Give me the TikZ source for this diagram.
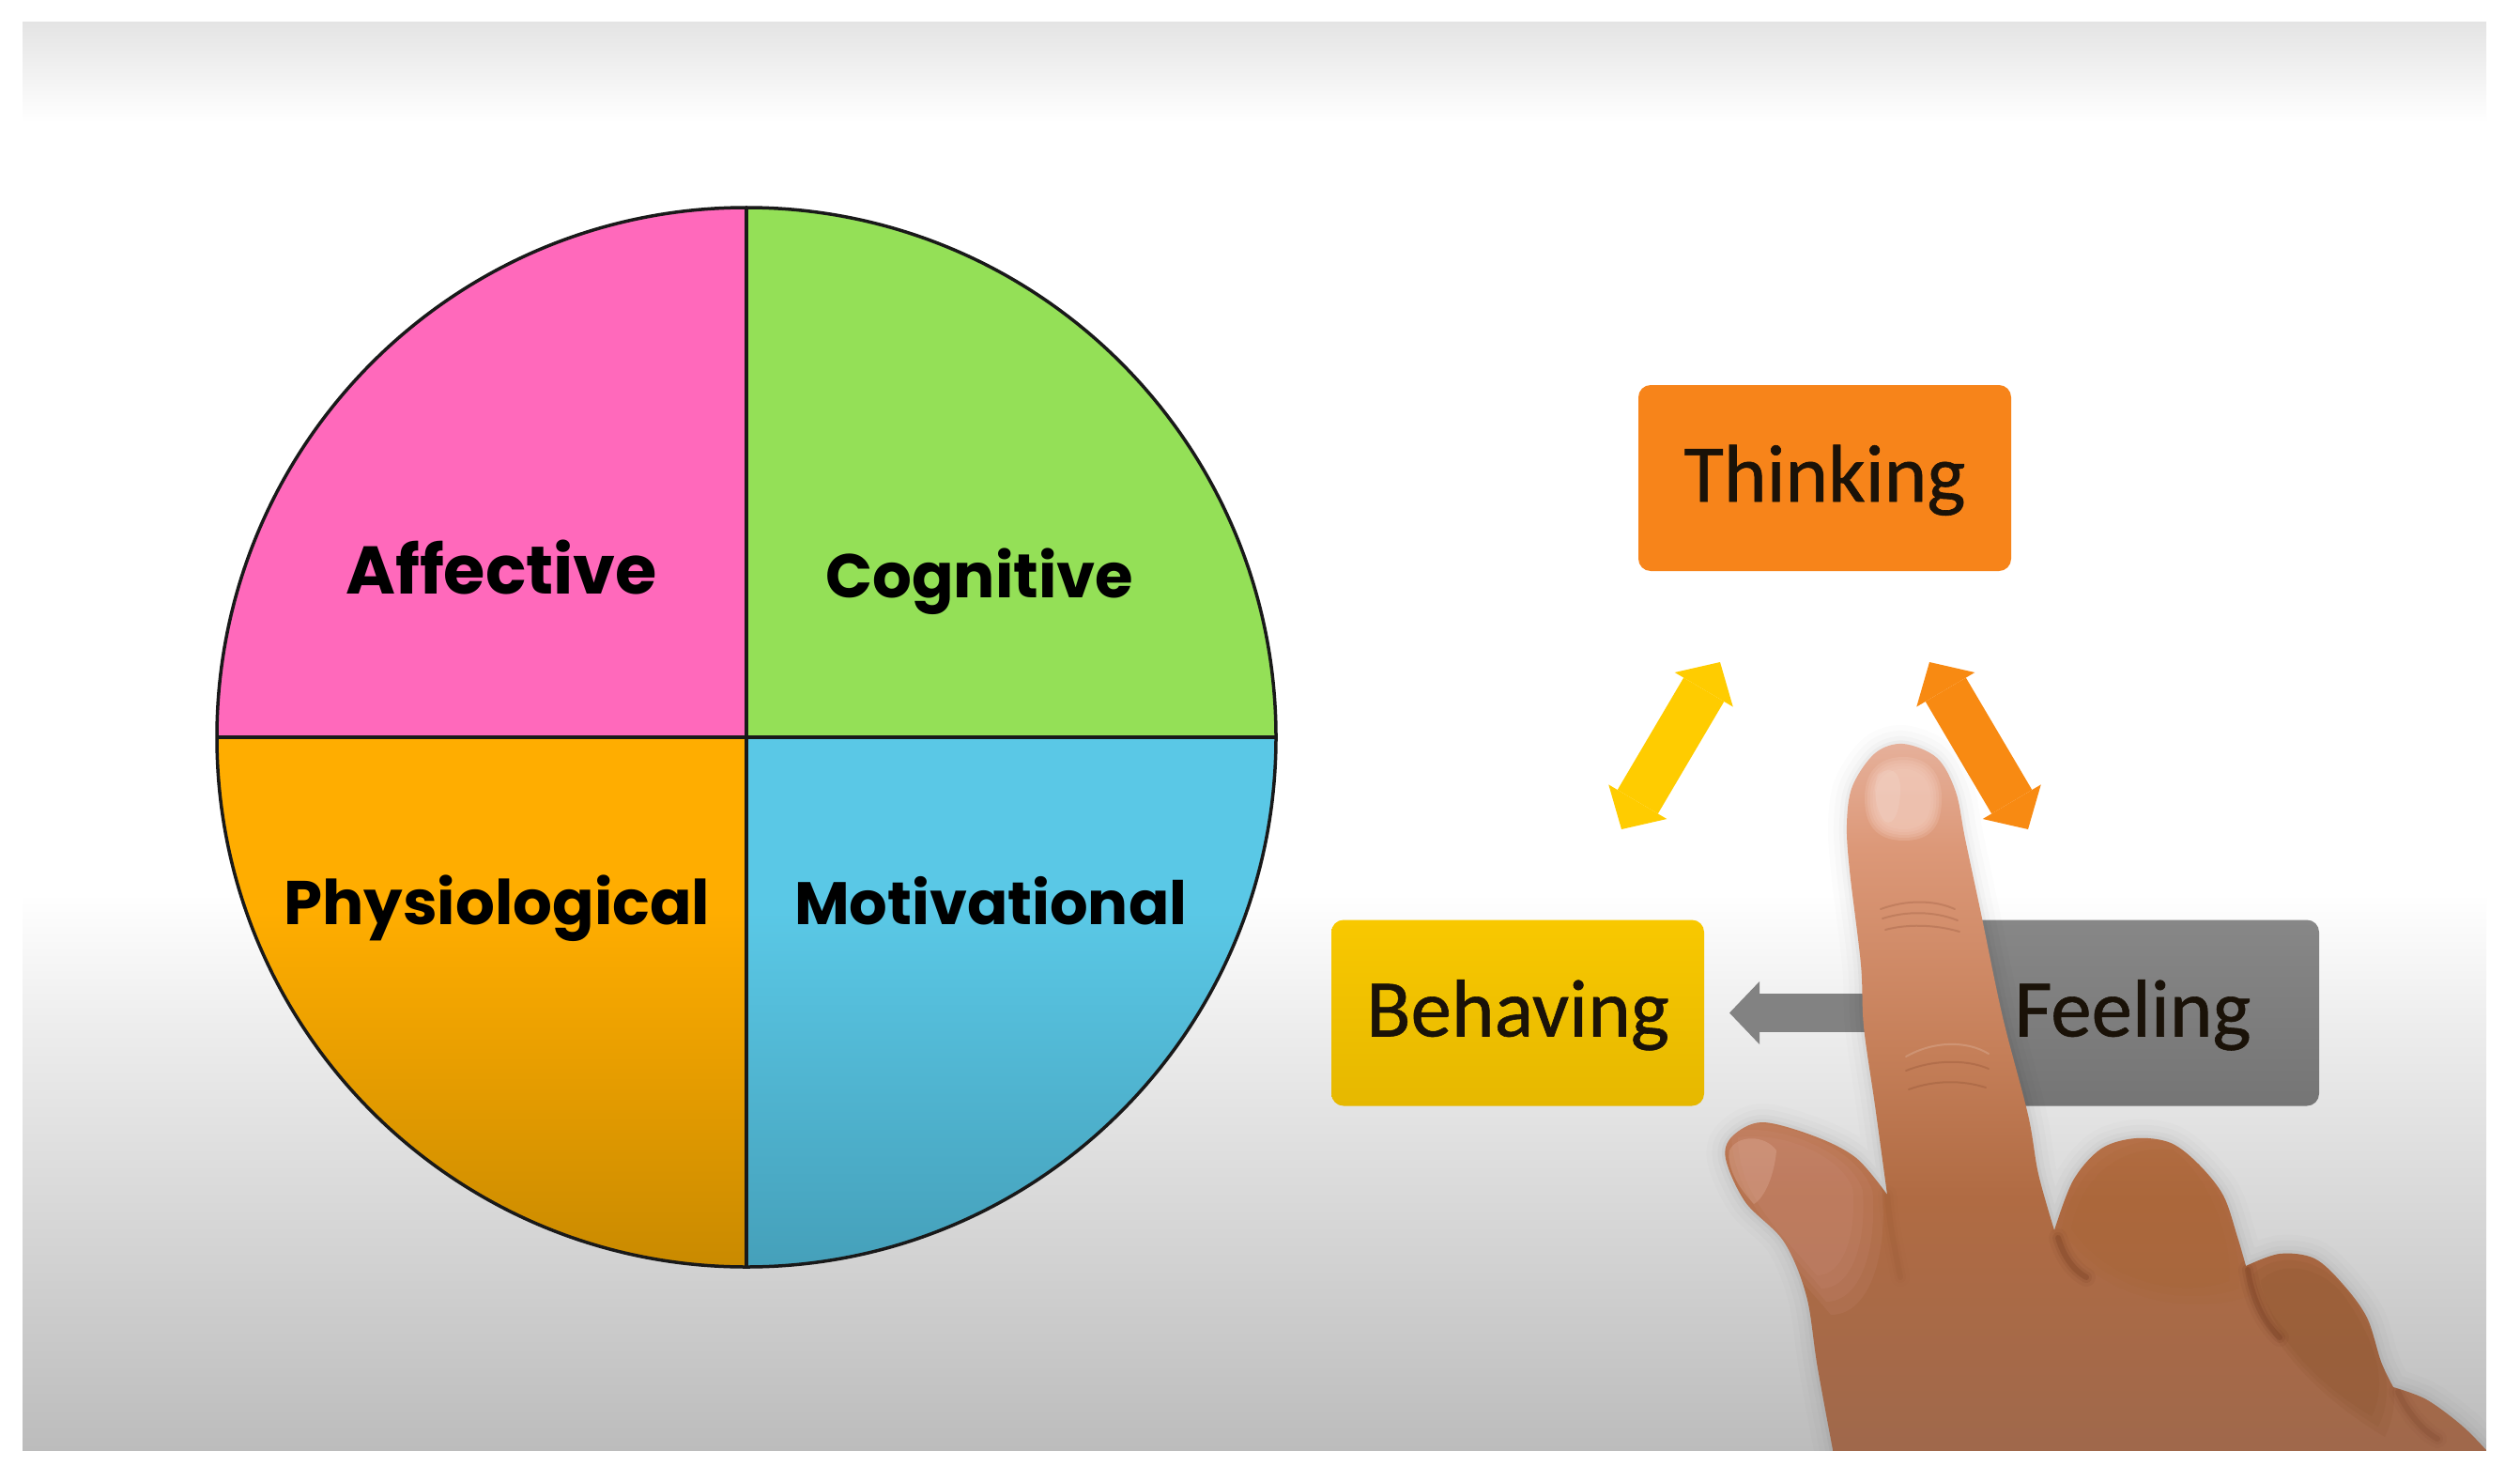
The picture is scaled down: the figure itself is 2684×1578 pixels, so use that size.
\documentclass[tikz,border=0pt]{standalone}
\usepackage{fontspec}
\setmainfont{Carlito}[RawFeature={embolden=0.7}]
\newfontfamily\heavyfont{Poppins}[UprightFont=* Bold]
\usetikzlibrary{arrows.meta}
\definecolor{bgtop}{HTML}{E4E4E4}
\definecolor{bgmid}{HTML}{ECECEC}
\definecolor{bgbot}{HTML}{BCBCBC}
\definecolor{pinkq}{HTML}{FF69BB}
\definecolor{greenq}{HTML}{94E057}
\definecolor{orangeq}{HTML}{FFAD00}
\definecolor{orangeqd}{HTML}{C98A00}
\definecolor{blueq}{HTML}{5AC8E6}
\definecolor{blueqd}{HTML}{45A0BA}
\definecolor{thinkc}{HTML}{F7841A}
\definecolor{inkc}{HTML}{1A1208}
\definecolor{yellowa}{HTML}{FFCC00}
\definecolor{oranga}{HTML}{F88A12}
\definecolor{graya}{HTML}{828282}
\definecolor{behavet}{HTML}{F8C800}
\definecolor{behaveb}{HTML}{E6B800}
\definecolor{feelt}{HTML}{878787}
\definecolor{feelb}{HTML}{757575}
\definecolor{skina}{HTML}{E6B09A}
\definecolor{skinb}{HTML}{DC9878}
\definecolor{skinc}{HTML}{C6805A}
\definecolor{skind}{HTML}{B06B43}
\definecolor{skine}{HTML}{9E684C}
\definecolor{skintan}{HTML}{A5622F}
\definecolor{skinpink}{HTML}{D4968A}
\definecolor{skinfold}{HTML}{5A2410}
\definecolor{nailc}{HTML}{F4CDBE}
\pgfdeclareverticalshading{bgshade}{100bp}{color(0bp)=(bgbot); color(25bp)=(bgbot); color(39.6bp)=(bgmid); color(44.5bp)=(white); color(71.5bp)=(white); color(75bp)=(bgtop); color(100bp)=(bgtop)}
\pgfdeclareverticalshading{orangeshade}{100bp}{color(0bp)=(orangeqd); color(25bp)=(orangeqd); color(58.6bp)=(orangeq); color(100bp)=(orangeq)}
\pgfdeclareverticalshading{blueshade}{100bp}{color(0bp)=(blueqd); color(25bp)=(blueqd); color(58.6bp)=(blueq); color(100bp)=(blueq)}
\pgfdeclareverticalshading{handshade}{100bp}{color(0bp)=(skine); color(25bp)=(skine); color(43.9bp)=(skind); color(54.5bp)=(skinc); color(67.8bp)=(skinb); color(75bp)=(skina); color(100bp)=(skina)}
\tikzset{
  boxbase/.style={rounded corners=13pt,minimum width=397pt,minimum height=198pt,inner sep=0pt,
    text height=124pt,text depth=74pt,text=inkc,font=\fontsize{87}{100}\selectfont},
  quadlabel/.style={anchor=base west,inner sep=0pt,text=black,font=\heavyfont\fontsize{60}{72}\selectfont},
  divider/.style={line width=3.5pt,draw=black!90},
  twoway/.style={line width=50pt,{Triangle[length=34pt,width=72pt,line width=0pt]}-{Triangle[length=34pt,width=72pt,line width=0pt]}},
  oneway/.style={line width=41pt,-{Triangle[length=32pt,width=67pt,line width=0pt]}},
  crease/.style={draw=#1,line cap=round,line width=2pt,opacity=.16}
}
\newcommand{\fitw}[2]{\resizebox{#1pt}{!}{#2}}
\newcommand{\handpath}{
  plot[smooth,tension=.55] coordinates {(1957,1570)(1936,1457)(1924,1380)(1900,1322)(1859,1280)(1838,1234)(1845,1210)(1877,1195)(1933,1210)(1977,1233)(2010,1272)}
  -- plot[smooth,tension=.55] coordinates {(2010,1272)(1997,1177)(1985,1093)(1982,1027)(1970,927)(1967,877)(1973,837)(1997,802)(2027,792)(2063,807)(2083,843)(2093,893)(2110,973)(2133,1083)(2160,1187)(2171,1250)(2188,1310)}
  -- plot[smooth,tension=.55] coordinates {(2188,1310)(2208,1257)(2238,1223)(2275,1212)(2312,1217)(2342,1240)(2368,1273)(2383,1317)(2392,1348)}
  -- plot[smooth,tension=.55] coordinates {(2392,1348)(2428,1335)(2465,1340)(2495,1367)(2521,1403)(2536,1450)(2549,1477)}
  -- plot[smooth,tension=.55] coordinates {(2549,1477)(2584,1490)(2621,1517)(2648,1544)(2670,1570)}
  -- cycle}
\begin{document}
\begin{tikzpicture}[x=1pt,y=-1pt]
\useasboundingbox (0,0) rectangle (2684,1578);
\fill[white] (0,0) rectangle (2684,1578);
\path[shading=bgshade] (24,24) rectangle (2648,1544);
% circle
\coordinate (c) at (795,785);
\coordinate (ct) at (795,221);
\coordinate (cb) at (795,1349);
\coordinate (cl) at (231,785);
\coordinate (cr) at (1359,785);
\fill[pinkq] (c) -- (ct) arc[start angle=90,end angle=180,radius=564pt] -- cycle;
\fill[greenq] (c) -- (ct) arc[start angle=90,end angle=0,radius=564pt] -- cycle;
\path[shading=orangeshade] (c) -- (cl) arc[start angle=180,end angle=270,radius=564pt] -- cycle;
\path[shading=blueshade] (c) -- (cr) arc[start angle=0,end angle=-90,radius=564pt] -- cycle;
\draw[divider] (c) circle[radius=564pt];
\draw[divider] (ct) -- (cb);
\draw[divider] (cl) -- (cr);
\node[quadlabel] (affective) at (368,632) {\fitw{332}{Affective}};
\node[quadlabel] (cognitive) at (879,636) {\fitw{328}{Cognitive}};
\node[quadlabel] (physio) at (302,984) {\fitw{454}{Physiological}};
\node[quadlabel] (motiv) at (846,984) {\fitw{418}{Motivational}};
% boxes
\node[boxbase,fill=thinkc] (thinking) at (1943.5,509) {Thinking};
\node[boxbase,top color=behavet,bottom color=behaveb] (behaving) at (1616.5,1078.5) {Behaving};
\node[boxbase,top color=feelt,bottom color=feelb] (feeling) at (2271.5,1078.5) {Feeling};
% arrows
\coordinate (ya) at (1832,705);
\coordinate (yb) at (1727,883);
\coordinate (oa) at (2055,705);
\coordinate (ob) at (2160,883);
\coordinate (gb) at (1842,1078.5);
\draw[twoway,draw=yellowa,fill=yellowa] (ya) -- (yb);
\draw[twoway,draw=oranga,fill=oranga] (oa) -- (ob);
\draw[oneway,draw=graya,fill=graya] (feeling) -- (gb);
% hand
\begin{scope}
\clip (24,24) rectangle (2648,1544);
\foreach \w/\o in {40/.012,28/.016,16/.02,7/.03}{
  \draw[black,opacity=\o,line width=\w pt,line join=round] \handpath;
}
\path[shading=handshade] \handpath;
\begin{scope}
\clip \handpath;
% thumb tone
\foreach \s in {1,.9,.8,.7}{
  \begin{scope}[shift={(1900,1260)},scale=\s,shift={(-1900,-1260)}]
  \fill[skinpink,opacity=.12] (1830,1190) .. controls (1900,1180) and (1990,1220) .. (2005,1270) .. controls (2010,1340) and (1990,1400) .. (1950,1400) .. controls (1900,1340) and (1830,1280) .. (1830,1190) -- cycle;
  \end{scope}
}
\fill[nailc,opacity=.22] (1842,1225) .. controls (1850,1208) and (1880,1208) .. (1892,1225) .. controls (1890,1250) and (1880,1275) .. (1868,1282) .. controls (1855,1268) and (1838,1245) .. (1842,1225) -- cycle;
% back fingers are tanner
\foreach \s in {1,.9,.8}{
  \begin{scope}[shift={(2290,1300)},scale=\s,shift={(-2290,-1300)}]
  \fill[skintan,opacity=.12] (2185,1310) .. controls (2205,1220) and (2270,1200) .. (2320,1205) .. controls (2370,1240) and (2400,1330) .. (2395,1380) .. controls (2340,1400) and (2240,1390) .. (2185,1310) -- cycle;
  \end{scope}
  \begin{scope}[shift={(2470,1420)},scale=\s,shift={(-2470,-1420)}]
  \fill[skintan!80!black,opacity=.12] (2392,1350) .. controls (2420,1320) and (2480,1330) .. (2510,1380) .. controls (2550,1440) and (2560,1490) .. (2540,1530) .. controls (2490,1500) and (2410,1440) .. (2392,1350) -- cycle;
  \end{scope}
}
% nail
\foreach \s in {1,.93,.86,.79,.72}{
  \begin{scope}[shift={(2027,852)},scale=\s,shift={(-2027,-852)}]
  \fill[nailc,opacity=.24] (1986,850) .. controls (1986,818) and (2005,806) .. (2027,806) .. controls (2052,806) and (2068,822) .. (2068,850) .. controls (2068,878) and (2058,895) .. (2028,895) .. controls (1998,895) and (1986,878) .. (1986,850) -- cycle;
  \end{scope}
}
\fill[white,opacity=.10] (2000,825) .. controls (2012,815) and (2024,820) .. (2024,840) .. controls (2024,860) and (2018,880) .. (2008,875) .. controls (1998,865) and (1994,840) .. (2000,825) -- cycle;
% creases between fingers
\foreach \w/\o in {20/.05,12/.09,6/.18}{
  \draw[skinfold,opacity=\o,line width=\w pt,line cap=round] (2192,1318) .. controls (2198,1338) and (2208,1352) .. (2222,1360);
  \draw[skinfold,opacity=\o,line width=\w pt,line cap=round] (2394,1352) .. controls (2398,1380) and (2410,1408) .. (2428,1424);
  \draw[skinfold,opacity=.6*\o,line width=\w pt,line cap=round] (2554,1482) .. controls (2562,1500) and (2578,1522) .. (2596,1532);
  \draw[skinfold,opacity=.25*\o,line width=\w pt,line cap=round] (2010,1272) .. controls (2012,1300) and (2018,1330) .. (2024,1360);
}
% knuckle wrinkles
\draw[crease=skinfold] (2003,968) .. controls (2030,958) and (2060,958) .. (2082,968);
\draw[crease=skinfold] (2005,978) .. controls (2030,970) and (2060,970) .. (2085,980);
\draw[crease=skinfold] (2008,990) .. controls (2030,984) and (2060,984) .. (2087,992);
\draw[crease=white] (2030,1125) .. controls (2060,1108) and (2095,1108) .. (2118,1122);
\draw[crease=skinfold] (2030,1140) .. controls (2060,1128) and (2095,1128) .. (2118,1138);
\draw[crease=skinfold] (2033,1160) .. controls (2060,1150) and (2090,1150) .. (2115,1158);
\end{scope}
\end{scope}
\end{tikzpicture}
\end{document}
